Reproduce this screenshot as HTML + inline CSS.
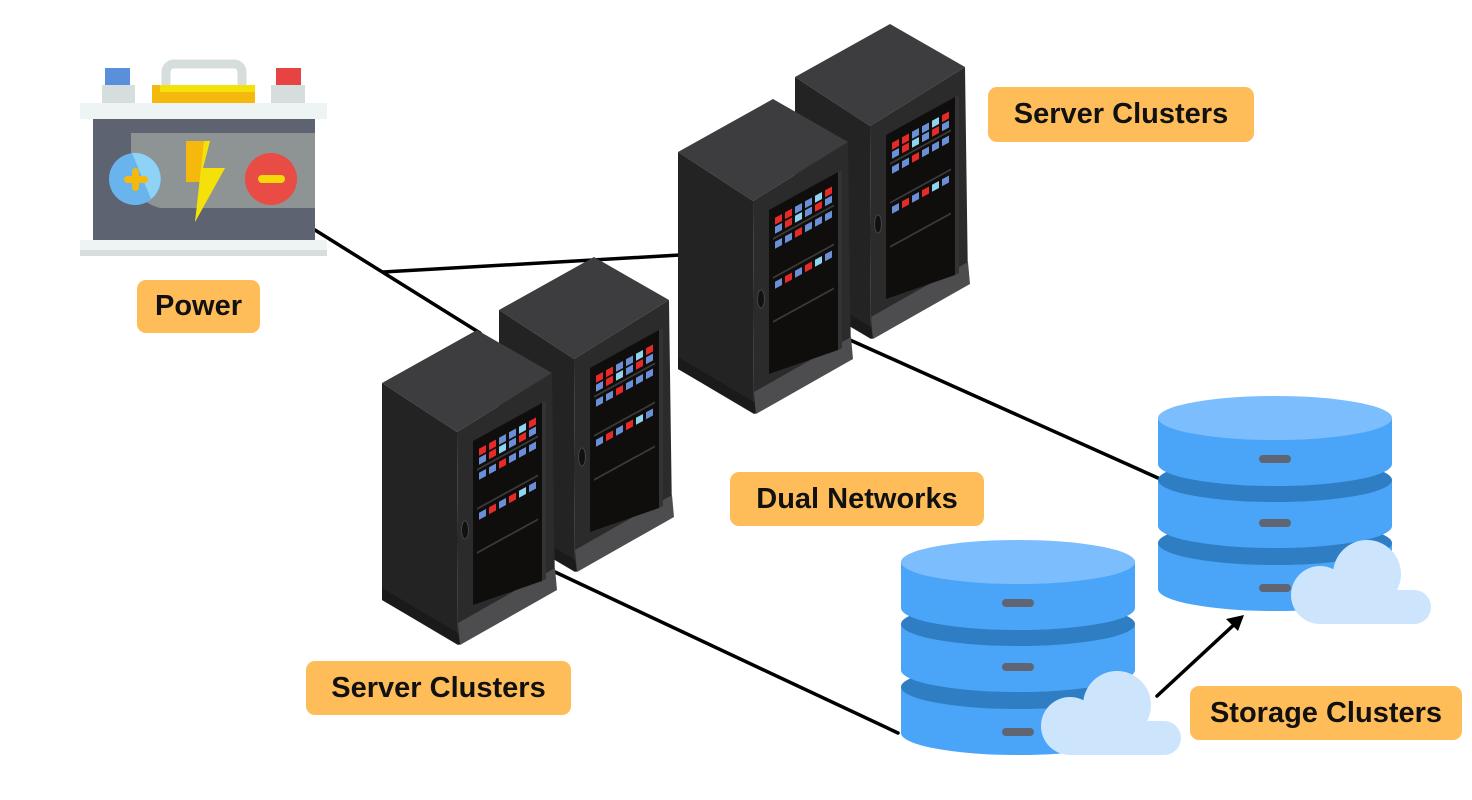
<!DOCTYPE html>
<html><head><meta charset="utf-8"><style>
html,body{margin:0;padding:0;background:#fff;width:1472px;height:800px;overflow:hidden}
.lbl{position:absolute;background:#ffbd59;border-radius:9px;font-family:"Liberation Sans",sans-serif;font-weight:bold;font-size:29px;color:#111;display:flex;align-items:center;justify-content:center}
</style></head><body>
<svg width="1472" height="800" viewBox="0 0 1472 800" style="position:absolute;left:0;top:0">
<defs>
<g id="rack">
  <polygon points="0,0 95,-53 170,-10 75,49" fill="#3d3d3f"/>
  <polygon points="0,0 75,49 76,262 0,217" fill="#232323"/>
  <polygon points="75,49 170,-10 173,207 76,262" fill="#2c2b2b"/>
  <polygon points="76,240 173,185 175,207 78,262" fill="#4d4d4f"/>
  <polygon points="0,205 76,250 78,262 0,217" fill="#1a1a1a"/>
  <polygon points="91,58 160,20 160,198 91,222" fill="#100e0d"/>
  <polygon points="160,20 164,18 164,196 160,198" fill="#333"/>
  <ellipse cx="83" cy="147" rx="3.5" ry="9" fill="#111" stroke="#444" stroke-width="1"/>
  <g transform="matrix(1,-0.55,0,1,93,60)">
    <rect x="4" y="8" width="7" height="7" fill="#e52a2a"/><rect x="14" y="8" width="7" height="7" fill="#e52a2a"/><rect x="24" y="8" width="7" height="7" fill="#6a8fd6"/><rect x="34" y="8" width="7" height="7" fill="#6a8fd6"/><rect x="44" y="8" width="7" height="7" fill="#8fd4ef"/><rect x="54" y="8" width="7" height="7" fill="#e52a2a"/>
    <rect x="4" y="17" width="7" height="7" fill="#6a8fd6"/><rect x="14" y="17" width="7" height="7" fill="#e52a2a"/><rect x="24" y="17" width="7" height="7" fill="#8fd4ef"/><rect x="34" y="17" width="7" height="7" fill="#6a8fd6"/><rect x="44" y="17" width="7" height="7" fill="#e52a2a"/><rect x="54" y="17" width="7" height="7" fill="#6a8fd6"/>
    <rect x="2" y="27" width="61" height="2" fill="#3a3a3a"/>
    <rect x="4" y="32" width="7" height="7" fill="#6a8fd6"/><rect x="14" y="32" width="7" height="7" fill="#6a8fd6"/><rect x="24" y="32" width="7" height="7" fill="#e52a2a"/><rect x="34" y="32" width="7" height="7" fill="#6a8fd6"/><rect x="44" y="32" width="7" height="7" fill="#6a8fd6"/><rect x="54" y="32" width="7" height="7" fill="#6a8fd6"/>
    <rect x="2" y="66" width="61" height="2" fill="#3a3a3a"/>
    <rect x="4" y="72" width="7" height="7" fill="#6a8fd6"/><rect x="14" y="72" width="7" height="7" fill="#e52a2a"/><rect x="24" y="72" width="7" height="7" fill="#6a8fd6"/><rect x="34" y="72" width="7" height="7" fill="#e52a2a"/><rect x="44" y="72" width="7" height="7" fill="#8fd4ef"/><rect x="54" y="72" width="7" height="7" fill="#6a8fd6"/>
    <rect x="2" y="110" width="61" height="2" fill="#3a3a3a"/>
  </g>
</g>
<g id="db">
  <path d="M0,125 v46 a117,22 0 0 0 234,0 v-46 z" fill="#4aa5f8"/>
  <ellipse cx="117" cy="125" rx="117" ry="22" fill="#2f7ec4"/>
  <path d="M0,62 v46 a117,22 0 0 0 234,0 v-46 z" fill="#4aa5f8"/>
  <ellipse cx="117" cy="62" rx="117" ry="22" fill="#2f7ec4"/>
  <path d="M0,0 v46 a117,22 0 0 0 234,0 v-46 z" fill="#4aa5f8"/>
  <ellipse cx="117" cy="0" rx="117" ry="22" fill="#7cbdfd"/>
  <rect x="101" y="37" width="32" height="8" rx="4" fill="#5f6572"/>
  <rect x="101" y="101" width="32" height="8" rx="4" fill="#5f6572"/>
  <rect x="101" y="166" width="32" height="8" rx="4" fill="#5f6572"/>
</g>
<g id="cloud" fill="#cce5fd">
  <circle cx="77" cy="34" r="34"/>
  <circle cx="30" cy="55" r="29"/>
  <circle cx="124" cy="67" r="17"/>
  <rect x="30" y="50" width="95" height="34"/>
</g>
</defs>

<g stroke="#000" stroke-width="3.5" fill="none" stroke-linecap="round">
<line x1="315" y1="230" x2="480" y2="333"/>
<line x1="383" y1="272" x2="680" y2="255"/>
<line x1="850" y1="340" x2="1158" y2="478"/>
<line x1="555" y1="572" x2="898" y2="733"/>
<line x1="1157" y1="696" x2="1238" y2="621"/>
</g>
<polygon points="1244,615 1226,619 1238,631" fill="#000"/>

<use href="#rack" transform="translate(795,77)"/>
<use href="#rack" transform="translate(678,152)"/>
<use href="#rack" transform="translate(499,310)"/>
<use href="#rack" transform="translate(382,383)"/>

<use href="#db" transform="translate(1158,418)"/>
<use href="#cloud" transform="translate(1290,540)"/>
<use href="#db" transform="translate(901,562)"/>
<use href="#cloud" transform="translate(1040,671)"/>

<rect x="105" y="68" width="25" height="18" fill="#5a8fdc"/>
<rect x="102" y="85" width="33" height="18" fill="#d6dddd"/>
<rect x="276" y="68" width="25" height="18" fill="#e84343"/>
<rect x="271" y="85" width="34" height="18" fill="#d6dddd"/>
<path d="M166,88 v-16 a8,8 0 0 1 8,-8 h60 a8,8 0 0 1 8,8 v16" fill="none" stroke="#d6dddd" stroke-width="9"/>
<rect x="152" y="85" width="103" height="18" fill="#f5b80d"/>
<rect x="160" y="85" width="95" height="7" fill="#f4e10a"/>
<rect x="93" y="118" width="222" height="122" fill="#5e6371"/>
<path d="M131,133 H315 V208 H160 Q131,200 131,170 Z" fill="#8e9494"/>
<rect x="80" y="103" width="247" height="16" fill="#eef4f4"/>
<rect x="80" y="240" width="247" height="16" fill="#eef4f4"/>
<rect x="80" y="250" width="247" height="6" fill="#d6dddd"/>
<circle cx="135" cy="179" r="26" fill="#6ab4ee"/>
<path d="M132,153 a26,26 0 0 1 19,46 z" fill="#8ed2f5"/>
<rect x="124" y="176" width="24" height="7" rx="3.5" fill="#f5b80d"/>
<rect x="132" y="168" width="7" height="23" rx="3.5" fill="#f5b80d"/>
<circle cx="271" cy="179" r="26" fill="#e94b45"/>
<rect x="258" y="175" width="27" height="8" rx="4" fill="#f4d80a"/>
<polygon points="186,141 210,141 203,168 225,168 195,222 201,182 186,182" fill="#f5b80d"/>
<polygon points="204,141 210,141 203,168 225,168 195,222" fill="#f4e10a"/>
</svg>

<div class="lbl" style="left:137px;top:280px;width:123px;height:53px">Power</div>
<div class="lbl" style="left:988px;top:87px;width:266px;height:55px">Server Clusters</div>
<div class="lbl" style="left:730px;top:472px;width:254px;height:54px">Dual Networks</div>
<div class="lbl" style="left:306px;top:661px;width:265px;height:54px">Server Clusters</div>
<div class="lbl" style="left:1190px;top:686px;width:272px;height:54px">Storage Clusters</div>
</body></html>
